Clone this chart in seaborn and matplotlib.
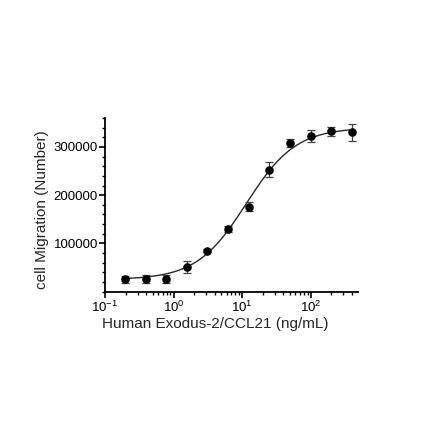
import numpy as np
import pandas as pd
import seaborn as sns
import matplotlib
matplotlib.use("Agg")
import matplotlib.pyplot as plt
from matplotlib.ticker import LogLocator, MultipleLocator, LogFormatterSciNotation

# concentration (ng/mL) and migrated cell counts
conc = [0.195, 0.39, 0.78, 1.56, 3.125, 6.25, 12.5, 25, 50, 100, 200, 400]
cells = [25800, 26500, 27000, 51500, 85000, 130000, 176500, 253000, 308000, 323000, 332000, 330000]
err = [7000, 9000, 8000, 12000, 3000, 7000, 10000, 16000, 9000, 13000, 9000, 18000]

# four-parameter logistic fit shown as the curve
bottom, top, ec50, hill = 25000, 340000, 11.5, 1.2

sns.set_style("ticks")
plt.rcParams['font.family'] = ['Liberation Sans', 'DejaVu Sans']
plt.rcParams['mathtext.fontset'] = 'custom'
plt.rcParams['mathtext.rm'] = 'Liberation Sans'

df = pd.DataFrame({"conc": conc, "cells": cells, "err": err})
xs = np.logspace(np.log10(0.18), np.log10(420), 300)
fit = pd.DataFrame({"conc": xs, "cells": bottom + (top - bottom) / (1 + (ec50 / xs) ** hill)})

fig = plt.figure(figsize=(4.4, 4.4), dpi=100)
ax = fig.add_axes([0.2386, 0.337, 0.575, 0.395])

sns.lineplot(data=fit, x="conc", y="cells", color="#2a2a2a", linewidth=1.0, ax=ax)
ax.errorbar(df["conc"], df["cells"], yerr=df["err"], fmt="none", ecolor="#444444",
            elinewidth=0.9, capsize=3, capthick=0.9)
sns.scatterplot(data=df, x="conc", y="cells", color="black", s=38, edgecolor="black",
                linewidth=0, zorder=5, ax=ax)

ax.set_xscale("log")
ax.set_xlim(0.1, 490)
ax.set_ylim(0, 360000)
ax.xaxis.set_major_locator(LogLocator(base=10, numticks=10))
ax.xaxis.set_minor_locator(LogLocator(base=10, subs=np.arange(2, 10), numticks=20))
ax.xaxis.set_major_formatter(LogFormatterSciNotation())
ax.set_yticks([100000, 200000, 300000])
ax.yaxis.set_minor_locator(MultipleLocator(20000))
ax.set_yticklabels(["100000", "200000", "300000"])

for s in ["top", "right"]:
    ax.spines[s].set_visible(False)
for s in ["left", "bottom"]:
    ax.spines[s].set_linewidth(1.3)
    ax.spines[s].set_color("black")

ax.tick_params(axis="both", which="major", direction="out", length=4, width=1.2, colors="black")
ax.tick_params(axis="both", which="minor", direction="out", length=2.5, width=1.0, colors="black")
ax.tick_params(axis="y", labelsize=9.5, pad=1)
ax.tick_params(axis="x", labelsize=9.5, pad=2)

ax.set_xlabel("Human Exodus-2/CCL21 (ng/mL)", fontsize=11, labelpad=1)
ax.set_ylabel("cell Migration (Number)", fontsize=11, labelpad=3)
ax.xaxis.set_label_coords(0.435, -0.145)
ax.yaxis.label.set_y(0.475)

fig.savefig("out.png", dpi=100)
